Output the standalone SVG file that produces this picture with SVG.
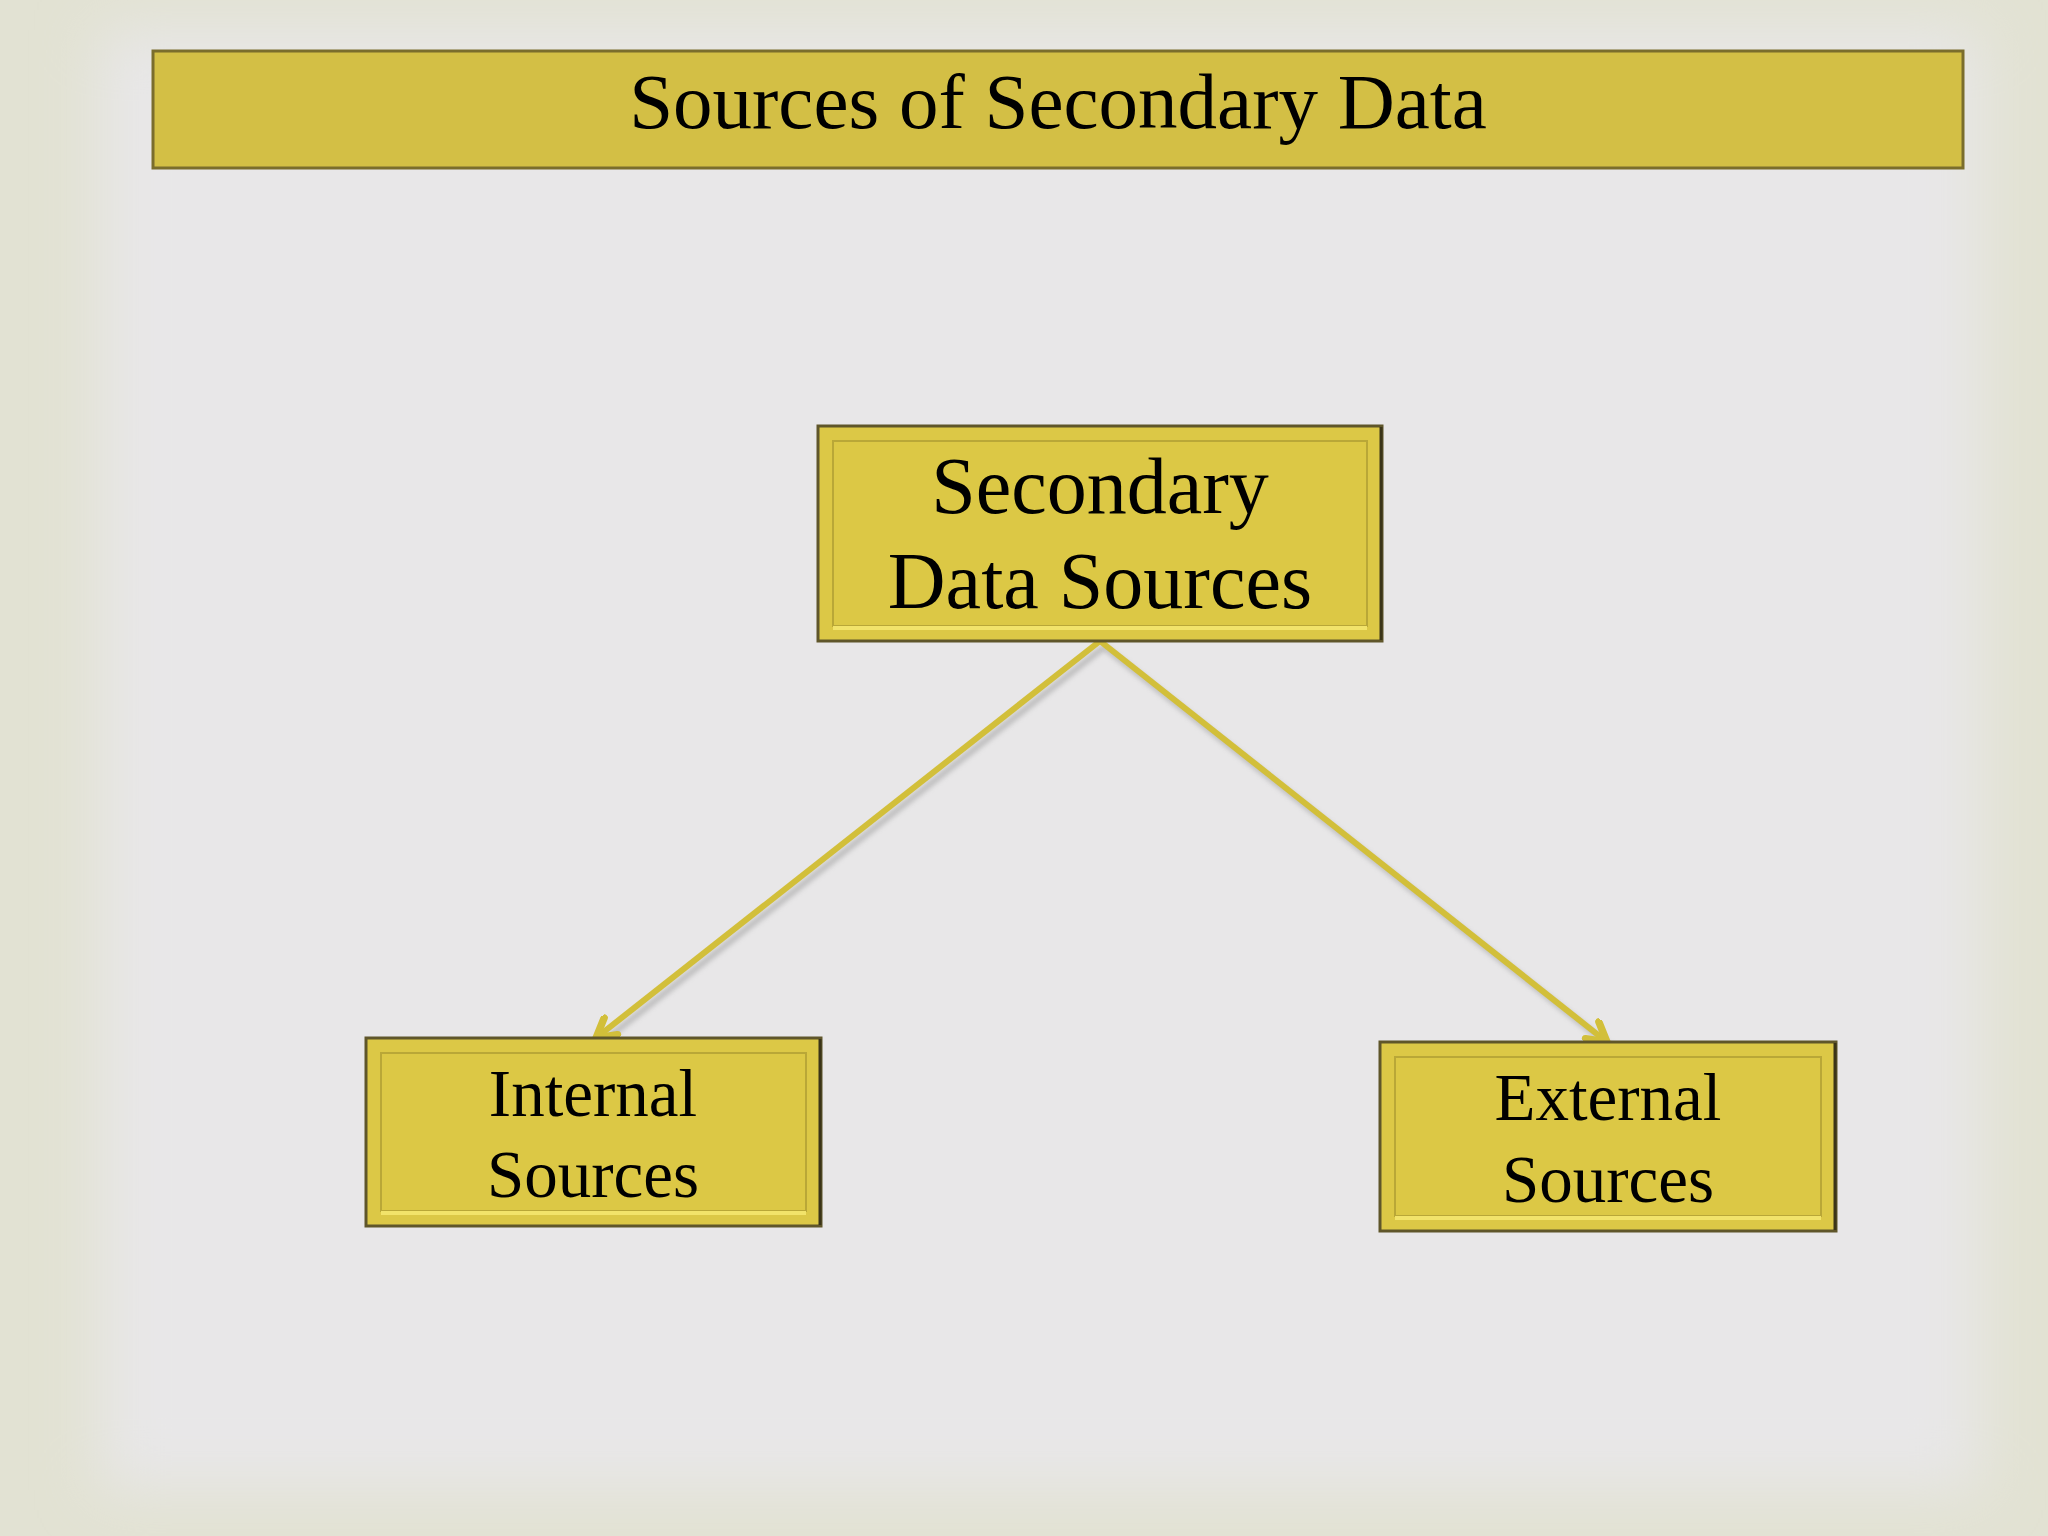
<svg xmlns="http://www.w3.org/2000/svg" width="2048" height="1536" viewBox="0 0 2048 1536">
  <defs>
    <filter id="soft" x="-10%" y="-10%" width="120%" height="120%">
      <feGaussianBlur stdDeviation="30"/>
    </filter>
    <filter id="shadow" x="-5%" y="-5%" width="110%" height="110%">
      <feGaussianBlur stdDeviation="2.5"/>
    </filter>
    <marker id="arrow" viewBox="0 0 20 20" refX="17" refY="10" markerWidth="4.5" markerHeight="4.5" orient="auto" markerUnits="strokeWidth">
      <path d="M3,2 L17,10 L3,18" fill="none" stroke="#d2bf3a" stroke-width="5.5" stroke-linejoin="miter" stroke-linecap="round"/>
    </marker>
    <style>
      .title { font-family: "Liberation Serif", "Times New Roman", serif; font-size: 79px; fill: #000; text-anchor: middle; }
      .lbl { font-family: "Liberation Serif", "Times New Roman", serif; fill: #000; text-anchor: middle; }
      .big { font-size: 80px; }
      .small { font-size: 67px; }
      .outer { fill: #dcc846; stroke: #5f562a; stroke-width: 3; }
      .inner { fill: #dcc845; stroke: #b9a737; stroke-width: 2; }
      .hi { fill: none; stroke: #f2e36a; stroke-width: 4; }
      .edge { stroke: #3a3418; stroke-width: 3; }
      .conn { fill: none; stroke: #d2bf3a; stroke-width: 6; }
      .connshadow { fill: none; stroke: #9a9a9a; stroke-width: 6; opacity: 0.55; }
    </style>
  </defs>

  <!-- background -->
  <rect x="0" y="0" width="2048" height="1536" fill="#e2e2d3"/>
  <rect x="100" y="30" width="1880" height="1460" fill="#e8e7e8" filter="url(#soft)"/>

  <!-- title -->
  <g id="title">
    <rect x="153" y="51" width="1810" height="117" fill="#d3bf45" stroke="#7a6d2c" stroke-width="3"/>
    <text class="title" x="1058" y="128">Sources of Secondary Data</text>
  </g>

  <!-- connectors -->
  <g id="connectors">
    <line class="connshadow" x1="1104" y1="647" x2="600" y2="1044" filter="url(#shadow)"/>
    <line class="connshadow" x1="1104" y1="647" x2="1611" y2="1047" filter="url(#shadow)"/>
    <line class="conn" x1="1100" y1="641" x2="596" y2="1038" marker-end="url(#arrow)"/>
    <line class="conn" x1="1100" y1="641" x2="1607" y2="1042" marker-end="url(#arrow)"/>
  </g>

  <!-- center node -->
  <g id="node-secondary">
    <rect class="outer" x="818" y="426" width="564" height="215"/>
    <rect class="inner" x="833" y="441" width="534" height="185"/>
    <line class="hi" x1="833" y1="628" x2="1367" y2="628"/>
    <line class="edge" x1="1381" y1="427" x2="1381" y2="640"/>
    <text class="lbl big" x="1100" y="513">Secondary</text>
    <text class="lbl big" x="1100" y="608">Data Sources</text>
  </g>

  <!-- internal node -->
  <g id="node-internal">
    <rect class="outer" x="366" y="1038" width="455" height="188"/>
    <rect class="inner" x="381" y="1053" width="425" height="158"/>
    <line class="hi" x1="381" y1="1213" x2="806" y2="1213"/>
    <line class="edge" x1="820" y1="1039" x2="820" y2="1225"/>
    <text class="lbl small" x="593" y="1116">Internal</text>
    <text class="lbl small" x="593" y="1197">Sources</text>
  </g>

  <!-- external node -->
  <g id="node-external">
    <rect class="outer" x="1380" y="1042" width="456" height="189"/>
    <rect class="inner" x="1395" y="1057" width="426" height="159"/>
    <line class="hi" x1="1395" y1="1218" x2="1821" y2="1218"/>
    <line class="edge" x1="1835" y1="1043" x2="1835" y2="1230"/>
    <text class="lbl small" x="1608" y="1120">External</text>
    <text class="lbl small" x="1608" y="1202">Sources</text>
  </g>
</svg>
